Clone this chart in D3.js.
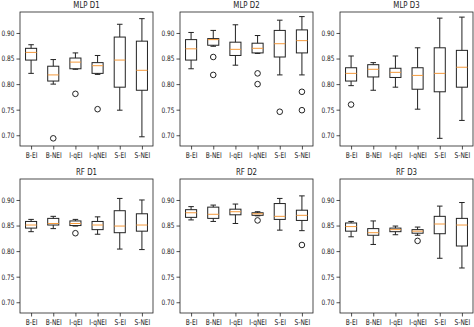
<!DOCTYPE html>
<html>
<head>
<meta charset="utf-8">
<script src="https://cdn.jsdelivr.net/npm/d3@7"></script>
<style>
  body { margin: 0; background: #fff; }
  svg text { fill: #222; }
</style>
</head>
<body>
<svg id="chart" width="474" height="327"></svg>
<script>
// methods along the x axis of every panel
const methods = ['B-EI', 'B-NEI', 'I-qEI', 'I-qNEI', 'S-EI', 'S-NEI'];
const yTicks = [0.70, 0.75, 0.80, 0.85, 0.90];

// box stats per method: [whiskerLow, q1, median, q3, whiskerHigh]
const mlpD1 = [
  [0.821, 0.847, 0.862, 0.870, 0.877],
  [0.800, 0.806, 0.818, 0.835, 0.848],
  [0.829, 0.830, 0.843, 0.851, 0.861],
  [0.819, 0.821, 0.836, 0.842, 0.856],
  [0.749, 0.794, 0.847, 0.892, 0.917],
  [0.697, 0.788, 0.827, 0.884, 0.928]
];
const mlpD1Out = [[], [0.694], [0.781], [0.751], [], []];

const mlpD2 = [
  [0.830, 0.847, 0.869, 0.887, 0.901],
  [0.874, 0.876, 0.887, 0.889, 0.905],
  [0.837, 0.856, 0.868, 0.882, 0.916],
  [0.860, 0.861, 0.870, 0.880, 0.895],
  [0.818, 0.853, 0.879, 0.905, 0.925],
  [0.818, 0.861, 0.885, 0.906, 0.932]
];
const mlpD2Out = [[], [0.853, 0.818], [], [0.821, 0.800], [0.746], [0.785, 0.749]];

const mlpD3 = [
  [0.797, 0.806, 0.821, 0.832, 0.855],
  [0.788, 0.814, 0.829, 0.838, 0.842],
  [0.794, 0.813, 0.823, 0.831, 0.855],
  [0.751, 0.790, 0.817, 0.832, 0.871],
  [0.694, 0.785, 0.821, 0.871, 0.929],
  [0.729, 0.794, 0.833, 0.866, 0.931]
];
const mlpD3Out = [[0.760], [], [], [], [], []];

const rfD1 = [
  [0.838, 0.845, 0.851, 0.858, 0.862],
  [0.844, 0.851, 0.854, 0.864, 0.868],
  [0.849, 0.850, 0.854, 0.859, 0.862],
  [0.833, 0.842, 0.851, 0.858, 0.867],
  [0.804, 0.836, 0.849, 0.879, 0.903],
  [0.803, 0.839, 0.851, 0.873, 0.900]
];
const rfD1Out = [[], [], [0.835], [], [], []];

const rfD2 = [
  [0.861, 0.866, 0.875, 0.881, 0.887],
  [0.858, 0.864, 0.872, 0.886, 0.890],
  [0.854, 0.871, 0.877, 0.882, 0.892],
  [0.869, 0.870, 0.873, 0.875, 0.877],
  [0.841, 0.862, 0.868, 0.893, 0.903],
  [0.840, 0.860, 0.870, 0.880, 0.908]
];
const rfD2Out = [[], [], [], [0.860], [], [0.812]];

const rfD3 = [
  [0.828, 0.839, 0.848, 0.855, 0.858],
  [0.813, 0.831, 0.836, 0.844, 0.859],
  [0.832, 0.838, 0.842, 0.845, 0.849],
  [0.831, 0.835, 0.839, 0.842, 0.847],
  [0.786, 0.834, 0.853, 0.868, 0.888],
  [0.767, 0.810, 0.851, 0.864, 0.895]
];
const rfD3Out = [[], [], [], [0.820], [], []];

const titles = ['MLP D1', 'MLP D2', 'MLP D3', 'RF D1', 'RF D2', 'RF D3'];
const boxSets = [mlpD1, mlpD2, mlpD3, rfD1, rfD2, rfD3];
const outSets = [mlpD1Out, mlpD2Out, mlpD3Out, rfD1Out, rfD2Out, rfD3Out];

const svg = d3.select('#chart');
const colLeft = [20, 180, 340];
const rowTop = [12, 179];
const panelW = 133;
const panelH = 134;
const lineColor = '#222';
const medianColor = '#f59a3c';
const squeeze = 0.74; // the source figure is horizontally compressed
const font = 'DejaVu Sans, sans-serif';

boxSets.forEach((boxes, i) => {
  const col = i % 3;
  const row = Math.floor(i / 3);
  const g = svg.append('g')
    .attr('transform', `translate(${colLeft[col]},${rowTop[row]})`);

  const x = d3.scalePoint()
    .domain(methods)
    .range([0, panelW])
    .padding(0.5);
  const step = x.step();
  const boxW = step * 0.5;
  const capW = boxW * 0.5;

  const y = d3.scaleLinear()
    .domain([0.679, 0.941])
    .range([panelH, 0]);

  // axes
  const xAxis = g.append('g')
    .attr('transform', `translate(0,${panelH})`)
    .call(d3.axisBottom(x).tickSize(3.5).tickPadding(3).tickSizeOuter(0));
  const yAxis = g.append('g')
    .call(d3.axisLeft(y).tickValues(yTicks).tickFormat(d3.format('.2f')).tickSize(3.5).tickPadding(2).tickSizeOuter(0));

  [xAxis, yAxis].forEach(a => {
    a.select('.domain').remove();
    a.selectAll('line').attr('stroke', lineColor).attr('stroke-width', 0.8);
  });
  xAxis.selectAll('text')
    .attr('font-family', font)
    .attr('font-size', 8)
    .attr('fill', '#222')
    .attr('transform', `scale(${squeeze},1)`);
  yAxis.selectAll('text')
    .attr('font-family', font)
    .attr('font-size', 7.5)
    .attr('fill', '#222')
    .attr('x', 0)
    .attr('transform', `translate(-5.5,0) scale(${squeeze + 0.04},1)`);

  // frame
  g.append('rect')
    .attr('width', panelW)
    .attr('height', panelH)
    .attr('fill', 'none')
    .attr('stroke', lineColor)
    .attr('stroke-width', 0.8);

  // title
  g.append('text')
    .attr('transform', `translate(${panelW / 2},-4) scale(${squeeze},1)`)
    .attr('text-anchor', 'middle')
    .attr('font-family', font)
    .attr('font-size', 9.5)
    .text(titles[i]);

  const b = g.selectAll('.box')
    .data(boxes)
    .enter()
    .append('g')
    .attr('class', 'box')
    .attr('transform', (d, j) => `translate(${x(methods[j])},0)`);

  // whiskers
  b.append('line')
    .attr('y1', d => y(d[0])).attr('y2', d => y(d[1]))
    .attr('stroke', lineColor).attr('stroke-width', 1);
  b.append('line')
    .attr('y1', d => y(d[3])).attr('y2', d => y(d[4]))
    .attr('stroke', lineColor).attr('stroke-width', 1);
  // caps
  [0, 4].forEach(k => {
    b.append('line')
      .attr('x1', -capW / 2).attr('x2', capW / 2)
      .attr('y1', d => y(d[k])).attr('y2', d => y(d[k]))
      .attr('stroke', lineColor).attr('stroke-width', 1);
  });
  // box
  b.append('rect')
    .attr('x', -boxW / 2)
    .attr('width', boxW)
    .attr('y', d => y(d[3]))
    .attr('height', d => y(d[1]) - y(d[3]))
    .attr('fill', 'none')
    .attr('stroke', lineColor)
    .attr('stroke-width', 1);
  // median
  b.append('line')
    .attr('x1', -boxW / 2).attr('x2', boxW / 2)
    .attr('y1', d => y(d[2])).attr('y2', d => y(d[2]))
    .attr('stroke', medianColor).attr('stroke-width', 1);

  // outliers
  b.each(function (d, j) {
    d3.select(this).selectAll('circle')
      .data(outSets[i][j])
      .enter()
      .append('circle')
      .attr('cx', 0)
      .attr('cy', v => y(v))
      .attr('r', 2.8)
      .attr('fill', 'none')
      .attr('stroke', lineColor)
      .attr('stroke-width', 1);
  });
});
</script>
</body>
</html>
